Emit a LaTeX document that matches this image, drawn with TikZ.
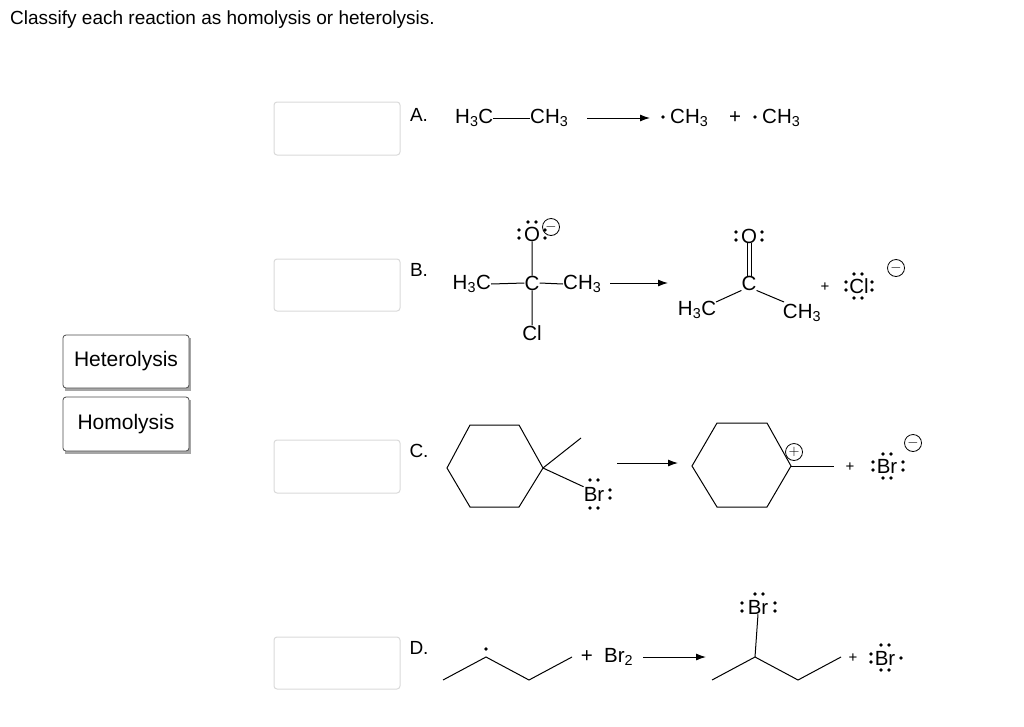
\documentclass[tikz,border=0pt]{standalone}
\usepackage{fontspec}
\setmainfont{Liberation Sans}
\usetikzlibrary{arrows.meta}
\begin{document}
\begin{tikzpicture}[x=1pt,y=-1pt,
  ans/.style={draw=black!15,rounded corners=3pt,line width=1pt},
  choice/.style={draw=black!70,rounded corners=3pt,line width=0.8pt,fill=white},
  lbl/.style={font=\fontsize{19}{21}\selectfont,inner sep=0},
  chem/.style={font=\fontsize{20.5}{23}\selectfont,inner sep=0},
  bond/.style={line width=1pt},
  arr/.style={line width=1pt,-{Latex[length=10pt,width=7pt]}},
  chg/.style={draw,circle,line width=0.8pt,minimum size=17pt,inner sep=0,font=\fontsize{15}{15}\selectfont}]
\useasboundingbox (0,0) rectangle (1024,726);
\newcommand{\ed}[2]{\fill (#1,#2) circle (1.8);}
\node[anchor=west,font=\fontsize{19}{21}\selectfont,inner sep=0] (t) at (10,20) {Classify each reaction as homolysis or heterolysis.};
% answer boxes
\draw[ans] (274,102) rectangle (400,155);
\draw[ans] (274,259) rectangle (400,311);
\draw[ans] (274,440) rectangle (400,493);
\draw[ans] (274,637) rectangle (400,689);
% choices
\fill[black!35] (65,338) rectangle (191,391);
\fill[black!35] (65,400) rectangle (191,454);
\node[choice,minimum width=126pt,minimum height=53pt,font=\fontsize{21}{23}\selectfont] (het) at (126,361.5) {Heterolysis};
\node[choice,minimum width=126pt,minimum height=54pt,font=\fontsize{21}{23}\selectfont] (hom) at (126,424) {Homolysis};
% A
\node[lbl] (la) at (419,115) {A.};
\node[chem,anchor=west] (a1) at (455,118) {H\textsubscript{3}C};
\node[chem,anchor=west] (a2) at (530,118) {CH\textsubscript{3}};
\draw[bond] (a1.east) -- (a2.west);
\coordinate (aa1) at (587,118); \coordinate (aa2) at (650,118);
\draw[arr] (aa1) -- (aa2);
\node[chem,anchor=west] (a3) at (670,118) {CH\textsubscript{3}}; \ed{663}{117}
\node[chem] (ap) at (735,118) {+};
\node[chem,anchor=west] (a4) at (762,118) {CH\textsubscript{3}}; \ed{755}{117}
% B
\node[lbl] (lb) at (419,270) {B.};
\node[chem,anchor=east] (b1) at (491,284) {H\textsubscript{3}C};
\node[chem] (bc) at (532,283) {C};
\node[chem,anchor=west] (b2) at (563,284) {CH\textsubscript{3}};
\node[chem] (bo) at (532,234) {O};
\node[chem] (bcl) at (532,333) {Cl};
\draw[bond] (b1.east) -- (bc.west) (bc.east) -- (b2.west) (bo.south) -- (bc.north) (bc.south) -- (bcl.north);
\ed{528}{222}\ed{536}{222}\ed{519}{230}\ed{519}{238}\ed{545}{230}\ed{545}{238}
\node[chg] (bm) at (551,227) {$-$};
\coordinate (ba1) at (610,283); \coordinate (ba2) at (668,283);
\draw[arr] (ba1) -- (ba2);
\node[chem] (pc) at (749,283) {C};
\node[chem] (po) at (749,236) {O};
\node[chem] (p1) at (697,310) {H\textsubscript{3}C};
\node[chem] (p2) at (802,313) {CH\textsubscript{3}};
\draw[bond] ([xshift=-2pt]po.south) -- ([xshift=-2pt]pc.north) ([xshift=2pt]po.south) -- ([xshift=2pt]pc.north);
\draw[bond] (pc.south west) -- (716,302) (pc.south east) -- (784,302);
\ed{736}{232}\ed{736}{240}\ed{762}{232}\ed{762}{240}
\node[font=\fontsize{15}{15}\selectfont] (bp) at (825,287) {+};
\node[chem] (cl) at (859,286) {Cl};
\ed{854}{274}\ed{862}{274}\ed{854}{298}\ed{862}{298}\ed{846}{282}\ed{846}{290}\ed{872}{282}\ed{872}{290}
\node[chg] (clm) at (896,268) {$-$};
% C
\node[lbl] (lc) at (419,451) {C.};
\draw[bond] (470,425) -- (519,425) -- (543,468) -- (519,507) -- (470,507) -- (447,468) -- cycle;
\coordinate (c0) at (543,468);
\node[chem] (cbr) at (594,494) {Br};
\draw[bond] (c0) -- (581,438) (c0) -- (cbr.north west);
\ed{590}{480}\ed{598}{480}\ed{590}{508}\ed{598}{508}\ed{610}{490}\ed{610}{498}
\coordinate (ca1) at (617,463); \coordinate (ca2) at (678,463);
\draw[arr] (ca1) -- (ca2);
\draw[bond] (717,423) -- (767,423) -- (791,466) -- (767,507) -- (717,507) -- (692,466) -- cycle;
\coordinate (c1) at (791,466); \coordinate (c2) at (834,466);
\draw[bond] (c1) -- (c2);
\node[chg] (cplus) at (794,452) {$+$};
\node[font=\fontsize{15}{15}\selectfont] (cp) at (850,467) {+};
\node[chem] (br2) at (887,466) {Br};
\ed{883}{454}\ed{891}{454}\ed{883}{478}\ed{891}{478}\ed{873}{462}\ed{873}{470}\ed{903}{462}\ed{903}{470}
\node[chg] (brm) at (913,443) {$-$};
% D
\node[lbl] (ld) at (419,648) {D.};
\draw[bond] (443,680) -- (486,657) -- (529,680) -- (572,657);
\ed{486}{649}
\node[chem] (dbr2) at (607,657) {+\ \ Br\textsubscript{2}};
\coordinate (da1) at (643,657); \coordinate (da2) at (706,657);
\draw[arr] (da1) -- (da2);
\draw[bond] (712,680) -- (755,657) -- (798,680) -- (841,657);
\node[chem] (dbr) at (758,607) {Br};
\draw[bond] (755,657) -- (dbr.south);
\ed{755}{594}\ed{763}{594}\ed{742}{603}\ed{742}{611}\ed{775}{603}\ed{775}{611}
\node[font=\fontsize{15}{15}\selectfont] (dp) at (853,658) {+};
\node[chem] (dbr3) at (885,658) {Br};
\ed{881}{645}\ed{889}{645}\ed{881}{670}\ed{889}{670}\ed{871}{654}\ed{871}{662}\ed{901}{658}
\end{tikzpicture}
\end{document}
